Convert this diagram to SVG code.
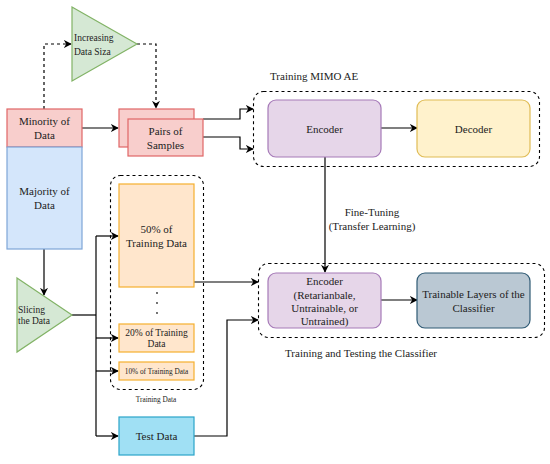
<svg xmlns="http://www.w3.org/2000/svg" width="550" height="464" viewBox="0 0 550 464" font-family="'Liberation Serif', 'DejaVu Serif', serif">
<defs>
<marker id="ah" viewBox="0 0 10 10" refX="9" refY="5" markerWidth="8" markerHeight="8" markerUnits="userSpaceOnUse" orient="auto">
<path d="M0,0 L10,5 L0,10 L3,5 Z" fill="#000"/>
</marker>
</defs>
<style>
text{font-family:'Liberation Serif','DejaVu Serif',serif;fill:#222;text-anchor:middle;dominant-baseline:central}
.t11{font-size:11px}
.t95{font-size:9.5px}
.t75{font-size:7.3px}
.ln{fill:none;stroke:#000;stroke-width:1.2}
.dl{fill:none;stroke:#000;stroke-width:1.2;stroke-dasharray:3,3}
.cont{fill:none;stroke:#000;stroke-width:1.1;stroke-dasharray:3,3}
.pink{fill:#f8cecc;stroke:#e06666;stroke-width:1.2}
.blue{fill:#d4e6fb;stroke:#7ea6d8;stroke-width:1.2}
.green{fill:#d5e8d4;stroke:#82b366;stroke-width:1.2}
.orange{fill:#ffe6cc;stroke:#f5b02e;stroke-width:1.2}
.purple{fill:#e6d6e9;stroke:#a67ab8;stroke-width:1.2}
.yellow{fill:#fff2cc;stroke:#e0bc55;stroke-width:1.2}
.slate{fill:#bac8d3;stroke:#2f5a74;stroke-width:1.2}
.cyan{fill:#a0e0f4;stroke:#2aa4c9;stroke-width:1.2}
</style>

<g id="containers">
<rect id="mimo-container" class="cont" x="253.5" y="91.5" width="286" height="75" rx="10"/>
<text class="t11" x="270" y="76" style="text-anchor:start">Training MIMO AE</text>
<rect id="classifier-container" class="cont" x="258.5" y="263.5" width="286" height="74" rx="10"/>
<text class="t11" x="361" y="353">Training and Testing the Classifier</text>
<rect id="training-data-container" class="cont" x="110.5" y="175.5" width="93" height="214" rx="10"/>
<text class="t75" x="156" y="399">Training Data</text>
</g>

<g id="connectors">
<path class="dl" d="M44,109 V44 H71" marker-end="url(#ah)"/>
<path class="dl" d="M137,44 H156 V108" marker-end="url(#ah)"/>
<path class="ln" d="M82,128 H118" marker-end="url(#ah)"/>
<path class="ln" d="M203,119 H240 V109 H253" marker-end="url(#ah)"/>
<path class="ln" d="M203,137 H240 V149 H253" marker-end="url(#ah)"/>
<path class="ln" d="M381,128 H417" marker-end="url(#ah)"/>
<path class="ln" d="M325,157 V272" marker-end="url(#ah)"/>
<path class="ln" d="M381,300 H417" marker-end="url(#ah)"/>
<path class="ln" d="M44,249 V295" marker-end="url(#ah)"/>
<path class="ln" d="M72,315 H96"/>
<path class="ln" d="M96,236 V436"/>
<path class="ln" d="M96,236 H118" marker-end="url(#ah)"/>
<path class="ln" d="M96,338 H118" marker-end="url(#ah)"/>
<path class="ln" d="M96,371 H118" marker-end="url(#ah)"/>
<path class="ln" d="M96,436 H118" marker-end="url(#ah)"/>
<path class="ln" d="M194,282 H258" marker-end="url(#ah)"/>
<path class="ln" d="M194,436 H227 V320 H258" marker-end="url(#ah)"/>
<text class="t11" x="372" y="212">Fine-Tuning</text>
<text class="t11" x="372" y="226">(Transfer Learning)</text>
</g>

<g id="increasing">
<polygon class="green" points="72,7 137,44 72,81"/>
<text class="t95" x="74" y="38" style="text-anchor:start">Increasing</text>
<text class="t95" x="74" y="52" style="text-anchor:start">Data Siza</text>
</g>

<g id="minority">
<rect class="pink" x="7" y="109" width="75" height="38"/>
<text class="t11" x="44.5" y="121">Minority of</text>
<text class="t11" x="44.5" y="135">Data</text>
</g>

<g id="majority">
<rect class="blue" x="7" y="147" width="75" height="102"/>
<text class="t11" x="44.5" y="191">Majority of</text>
<text class="t11" x="44.5" y="205">Data</text>
</g>

<g id="pairs">
<rect class="pink" x="119" y="109" width="75" height="38"/>
<rect class="pink" x="128" y="119" width="75" height="37"/>
<text class="t11" x="165.5" y="131">Pairs of</text>
<text class="t11" x="165.5" y="145">Samples</text>
</g>

<g id="encoder">
<rect class="purple" x="268" y="100" width="113" height="57" rx="8"/>
<text class="t11" x="324.5" y="128.5">Encoder</text>
</g>

<g id="decoder">
<rect class="yellow" x="417" y="100" width="113" height="57" rx="8"/>
<text class="t11" x="473.5" y="128.5">Decoder</text>
</g>

<g id="encoder2">
<rect class="purple" x="268" y="273" width="113" height="55" rx="8"/>
<text class="t11" x="324.5" y="281">Encoder</text>
<text class="t11" x="324.5" y="295">(Retarianbale,</text>
<text class="t11" x="324.5" y="308">Untrainable, or</text>
<text class="t11" x="324.5" y="321">Untrained)</text>
</g>

<g id="trainable">
<rect class="slate" x="417" y="273" width="113" height="55" rx="8"/>
<text class="t11" x="473.5" y="294">Trainable Layers of the</text>
<text class="t11" x="473.5" y="308">Classifier</text>
</g>

<g id="slicing">
<polygon class="green" points="17,278 72,315 17,352"/>
<text class="t95" x="18" y="310" style="text-anchor:start">Slicing</text>
<text class="t95" x="18" y="321" style="text-anchor:start">the Data</text>
</g>

<g id="p50">
<rect class="orange" x="119" y="184" width="75" height="103"/>
<text class="t11" x="156.5" y="229">50% of</text>
<text class="t11" x="156.5" y="243">Training Data</text>
</g>

<g id="dots">
<circle cx="157" cy="293" r="0.9" fill="#333"/>
<circle cx="157" cy="303" r="0.9" fill="#333"/>
<circle cx="157" cy="313" r="0.9" fill="#333"/>
</g>

<g id="p20">
<rect class="orange" x="119" y="324" width="75" height="28"/>
<text class="t95" x="156.5" y="333">20% of Training</text>
<text class="t95" x="156.5" y="344">Data</text>
</g>

<g id="p10">
<rect class="orange" x="119" y="362" width="75" height="18"/>
<text class="t75" x="156.5" y="371.5">10% of Training Data</text>
</g>

<g id="test">
<rect class="cyan" x="119" y="417" width="75" height="38"/>
<text class="t11" x="156.5" y="436">Test Data</text>
</g>
</svg>
